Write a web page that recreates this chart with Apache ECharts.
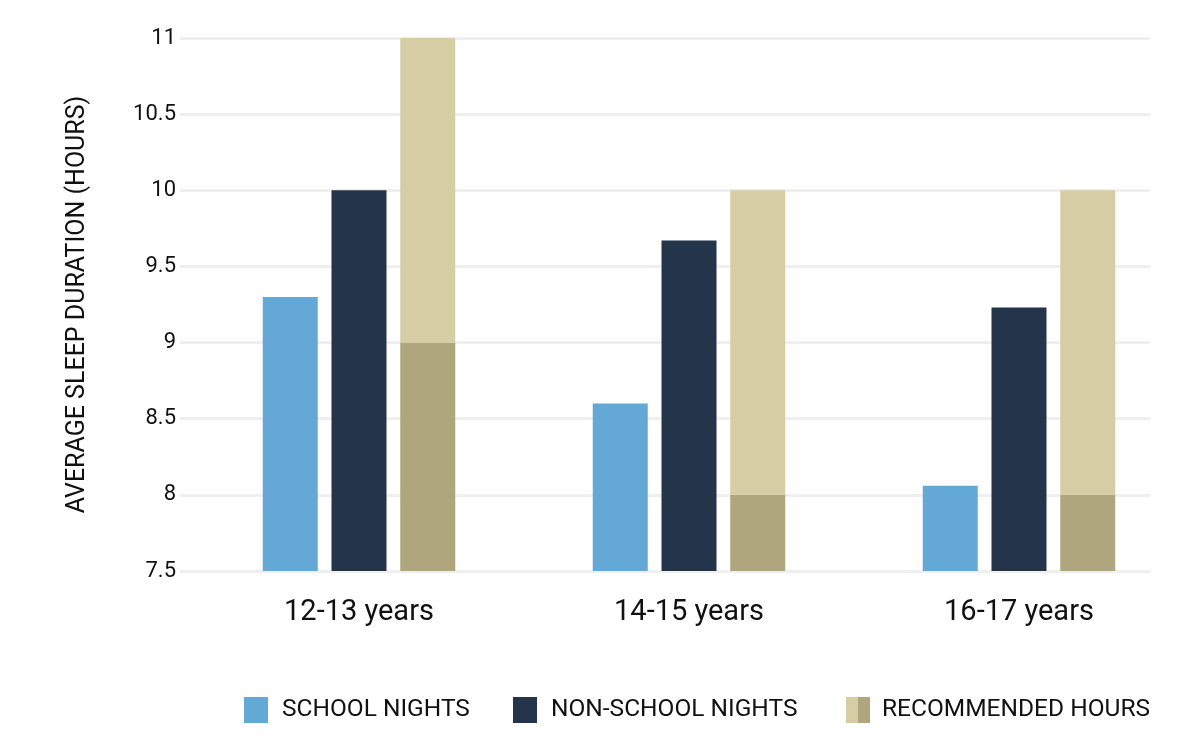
<!DOCTYPE html>
<html>
<head>
<meta charset="utf-8">
<script src="https://cdn.jsdelivr.net/npm/echarts@6/dist/echarts.min.js"></script>
<style>
html,body{margin:0;padding:0;background:#fff;}
#chart{width:1200px;height:750px;}
</style>
</head>
<body>
<div id="chart"></div>
<script>
const categories = ['12-13 years', '14-15 years', '16-17 years'];
const schoolNights = [9.30, 8.60, 8.06];
const nonSchoolNights = [10.0, 9.67, 9.23];
const recommendedMin = [9, 8, 8];
const recommendedMax = [11, 10, 10];
const yTicks = [7.5, 8, 8.5, 9, 9.5, 10, 10.5, 11];

const recommendedRange = recommendedMax.map((v, i) => v - recommendedMin[i]);

const FONT = 'Roboto';
const chart = echarts.init(document.getElementById('chart'));
const gridTop = 38, gridBottom = 179;

chart.setOption({
  animation: false,
  backgroundColor: '#fff',
  textStyle: { fontFamily: FONT },
  grid: [
    { left: 180, right: 50, top: gridTop, bottom: gridBottom },
    { left: 194, right: 16, top: gridTop, bottom: gridBottom }
  ],
  xAxis: [
    { type: 'category', gridIndex: 0, data: categories, show: false },
    {
      type: 'category', gridIndex: 1, data: categories,
      axisLine: { show: false }, axisTick: { show: false },
      axisLabel: { color: '#111', fontSize: 29, fontFamily: FONT, margin: 27 }
    }
  ],
  yAxis: [
    {
      type: 'value', gridIndex: 0,
      min: yTicks[0], max: yTicks[yTicks.length - 1], interval: 0.5,
      name: 'AVERAGE SLEEP DURATION (HOURS)',
      nameLocation: 'middle', nameGap: 90,
      nameTextStyle: { color: '#111', fontSize: 25, fontFamily: FONT },
      axisLine: { show: false }, axisTick: { show: false },
      axisLabel: { color: '#111', fontSize: 22, fontFamily: FONT, margin: 4 },
      splitLine: { show: true, lineStyle: { color: '#efefef', width: 3 } }
    },
    {
      type: 'value', gridIndex: 1,
      min: yTicks[0], max: yTicks[yTicks.length - 1], interval: 0.5,
      show: false, splitLine: { show: false }
    }
  ],
  legend: [
    {
      left: 244, top: 697, padding: 0, itemWidth: 24, itemHeight: 26,
      icon: 'rect', data: ['SCHOOL NIGHTS'],
      textStyle: { color: '#111', fontSize: 24.5, fontFamily: FONT, padding: [4, 0, 0, 9] }
    },
    {
      left: 513, top: 697, padding: 0, itemWidth: 24, itemHeight: 26,
      icon: 'rect', data: ['NON-SCHOOL NIGHTS'],
      textStyle: { color: '#111', fontSize: 24.5, fontFamily: FONT, padding: [4, 0, 0, 9] }
    },
    {
      left: 846, top: 697, padding: 0, itemWidth: 24, itemHeight: 26,
      icon: 'rect', data: ['RECOMMENDED HOURS'],
      textStyle: { color: '#111', fontSize: 24.5, fontFamily: FONT, padding: [4, 0, 0, 7] }
    }
  ],
  graphic: [
    { type: 'rect', left: 858, top: 697, shape: { width: 12, height: 26 }, style: { fill: '#afa67d' }, z: 100 }
  ],
  series: [
    {
      name: 'SCHOOL NIGHTS', type: 'bar', xAxisIndex: 1, yAxisIndex: 1,
      data: schoolNights, barWidth: 55, barGap: '25%',
      itemStyle: { color: '#64a8d6' }
    },
    {
      name: 'NON-SCHOOL NIGHTS', type: 'bar', xAxisIndex: 1, yAxisIndex: 1,
      data: nonSchoolNights, barWidth: 55, barGap: '25%',
      itemStyle: { color: '#24354b' }
    },
    {
      name: 'Recommended minimum', type: 'bar', xAxisIndex: 1, yAxisIndex: 1,
      stack: 'rec', data: recommendedMin, barWidth: 55, barGap: '25%',
      itemStyle: { color: '#afa67d' }
    },
    {
      name: 'RECOMMENDED HOURS', type: 'bar', xAxisIndex: 1, yAxisIndex: 1,
      stack: 'rec', data: recommendedRange, barWidth: 55, barGap: '25%',
      itemStyle: { color: '#d6cda5' }
    }
  ]
});
</script>
</body>
</html>
